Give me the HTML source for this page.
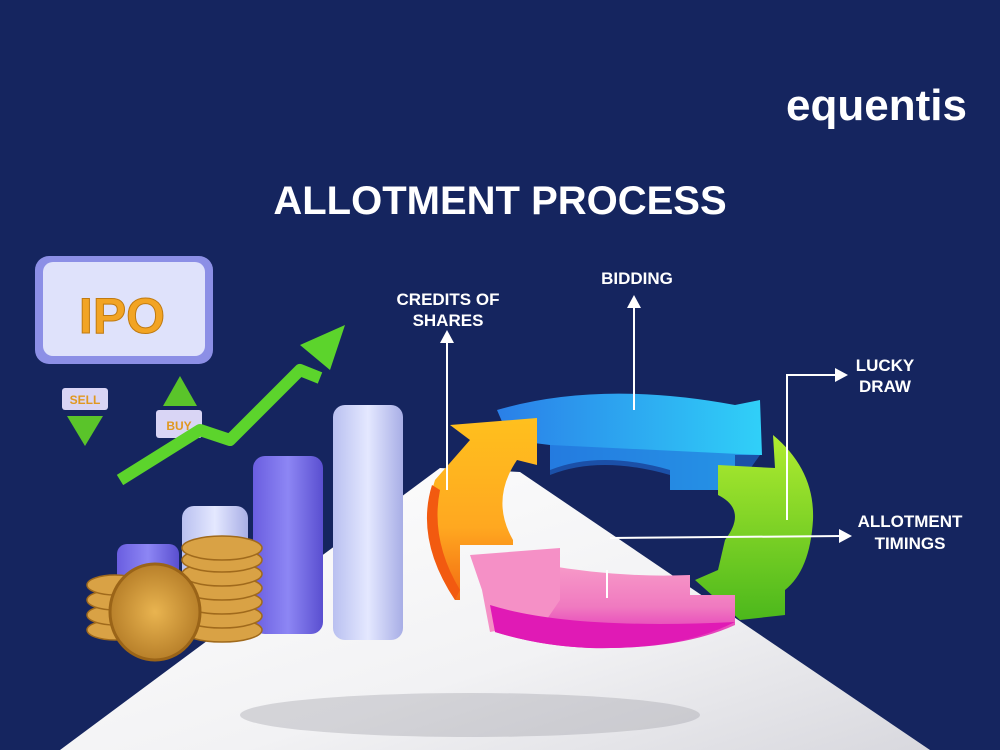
<!DOCTYPE html>
<html><head><meta charset="utf-8"><style>
html,body{margin:0;padding:0;width:1000px;height:750px;overflow:hidden;background:#15255f}
svg{display:block}
text{font-family:"Liberation Sans",sans-serif}
</style></head><body>
<svg width="1000" height="750" viewBox="0 0 1000 750">
<defs>
<linearGradient id="mt" x1="0" y1="0" x2="1" y2="1"><stop offset="0" stop-color="#ffffff"/><stop offset="0.6" stop-color="#f2f2f4"/><stop offset="1" stop-color="#d8d8de"/></linearGradient>
<linearGradient id="bl" x1="0" y1="0" x2="1" y2="0"><stop offset="0" stop-color="#2a7fe8"/><stop offset="1" stop-color="#30d0f8"/></linearGradient>
<linearGradient id="gr" x1="0" y1="0" x2="0" y2="1"><stop offset="0" stop-color="#b0ec30"/><stop offset="1" stop-color="#4cb81c"/></linearGradient>
<linearGradient id="pk" x1="0" y1="0" x2="0" y2="1"><stop offset="0" stop-color="#f79ac8"/><stop offset="0.5" stop-color="#f07ac0"/><stop offset="1" stop-color="#e020b8"/></linearGradient>
<linearGradient id="or" x1="0" y1="0" x2="0" y2="1"><stop offset="0" stop-color="#ffc01e"/><stop offset="0.6" stop-color="#ffa820"/><stop offset="1" stop-color="#f26a12"/></linearGradient>
<linearGradient id="bar" x1="0" y1="0" x2="1" y2="0"><stop offset="0" stop-color="#b9c0f0"/><stop offset="0.5" stop-color="#e4e8ff"/><stop offset="1" stop-color="#a8aee6"/></linearGradient>
<linearGradient id="bar2" x1="0" y1="0" x2="1" y2="0"><stop offset="0" stop-color="#6a5ee0"/><stop offset="0.5" stop-color="#8d86f4"/><stop offset="1" stop-color="#5a4fd0"/></linearGradient>
<radialGradient id="coin"><stop offset="0" stop-color="#e9b450"/><stop offset="1" stop-color="#b8802a"/></radialGradient>
</defs>
<rect width="1000" height="750" fill="#15255f"/>
<polygon points="60,750 440,468 520,472 930,750" fill="url(#mt)"/>
<ellipse cx="470" cy="715" rx="230" ry="22" fill="#9a9aa4" opacity="0.35"/>
<text x="786" y="120" fill="#fff" font-size="44" font-weight="bold">equentis</text>
<text x="500" y="214" fill="#fff" font-size="40" font-weight="bold" text-anchor="middle">ALLOTMENT PROCESS</text>
<rect x="35" y="256" width="178" height="108" rx="14" fill="#8c8fe6"/>
<rect x="43" y="262" width="162" height="94" rx="10" fill="#dfe2fb"/>
<text x="122" y="333" fill="#f2a424" font-size="50" font-weight="bold" text-anchor="middle" stroke="#c07a10" stroke-width="1">IPO</text>
<rect x="62" y="388" width="46" height="22" rx="3" fill="#d9d5f5"/><text x="85" y="404" font-size="12" font-weight="bold" fill="#e09820" text-anchor="middle">SELL</text>
<polygon points="67,416 103,416 85,446" fill="#5ac42a"/>
<rect x="156" y="410" width="46" height="28" rx="3" fill="#d9d5f5"/><text x="179" y="430" font-size="12" font-weight="bold" fill="#e09820" text-anchor="middle">BUY</text>
<polygon points="163,406 197,406 180,376" fill="#5ac42a"/>
<polyline points="120,480 200,430 230,440 300,370 320,378" fill="none" stroke="#5cd42c" stroke-width="12" stroke-linejoin="round"/>
<polygon points="300,345 345,325 330,370" fill="#5cd42c"/>
<rect x="333" y="405" width="70" height="235" rx="12" fill="url(#bar)"/>
<rect x="253" y="456" width="70" height="178" rx="12" fill="url(#bar2)"/>
<rect x="182" y="506" width="66" height="120" rx="12" fill="url(#bar)"/>
<rect x="117" y="544" width="62" height="80" rx="10" fill="url(#bar2)"/>
<g fill="#d9a245" stroke="#a06a1c" stroke-width="1.5">
<ellipse cx="222" cy="630" rx="40" ry="12"/><ellipse cx="222" cy="616" rx="40" ry="12"/><ellipse cx="222" cy="602" rx="40" ry="12"/><ellipse cx="222" cy="588" rx="40" ry="12"/><ellipse cx="222" cy="574" rx="40" ry="12"/><ellipse cx="222" cy="560" rx="40" ry="12"/><ellipse cx="222" cy="548" rx="40" ry="12"/>
<ellipse cx="115" cy="630" rx="28" ry="10"/><ellipse cx="115" cy="615" rx="28" ry="10"/><ellipse cx="115" cy="600" rx="28" ry="10"/><ellipse cx="115" cy="585" rx="28" ry="10"/>
</g>
<ellipse cx="155" cy="612" rx="45" ry="48" fill="url(#coin)" stroke="#9a6418" stroke-width="3"/>
<!-- blue -->
<path d="M497,410 Q600,380 735,405 L760,400 L762,455 L735,455 L735,490 L670,490 L670,470 Q600,450 550,470 L550,445 L510,440 Z" fill="url(#bl)"/>
<path d="M550,445 L550,475 Q600,455 670,475 L670,490 L735,490 L760,455" fill="#1f6ed8" opacity="0.6"/>
<!-- green -->
<path d="M718,465 L775,468 L773,435 Q815,470 813,520 Q810,570 785,590 L785,615 L740,620 L695,580 L718,570 L725,540 Q748,510 718,495 Z" fill="url(#gr)"/>
<!-- pink -->
<path d="M735,595 L735,625 Q680,650 590,648 Q540,646 495,632 L495,600 L545,600 L545,565 Q620,578 690,575 L690,595 Z" fill="url(#pk)"/>
<polygon points="560,548 470,555 482,590 490,632 545,622 560,600" fill="#f590c6"/>
<path d="M490,605 Q570,630 735,622 Q680,650 590,648 Q540,646 495,632 Z" fill="#e01ab5"/>
<!-- orange -->
<path d="M455,600 Q415,540 435,480 L470,440 L450,425 L537,418 L537,465 L517,460 Q490,500 513,540 L513,545 L460,545 L460,600 Z" fill="url(#or)"/>
<path d="M455,600 Q415,540 432,485 L440,490 Q430,540 460,590 Z" fill="#f25a10"/>
<g stroke="#fff" stroke-width="2" fill="none">
<line x1="447" y1="490" x2="447" y2="340"/>
<line x1="634" y1="410" x2="634" y2="305"/>
<polyline points="787,520 787,375 838,375"/>
<line x1="610" y1="538" x2="842" y2="536"/>
<line x1="607" y1="570" x2="607" y2="598"/>
</g>
<g fill="#fff">
<polygon points="440,343 454,343 447,330"/>
<polygon points="627,308 641,308 634,295"/>
<polygon points="835,368 835,382 848,375"/>
<polygon points="839,529 839,543 852,536"/>
</g>
<g fill="#fff" font-size="17" font-weight="bold" text-anchor="middle">
<text x="448" y="305">CREDITS OF</text><text x="448" y="326">SHARES</text>
<text x="637" y="284">BIDDING</text>
<text x="885" y="371">LUCKY</text><text x="885" y="392">DRAW</text>
<text x="910" y="527">ALLOTMENT</text><text x="910" y="549">TIMINGS</text>
</g>
</svg>
</body></html>
